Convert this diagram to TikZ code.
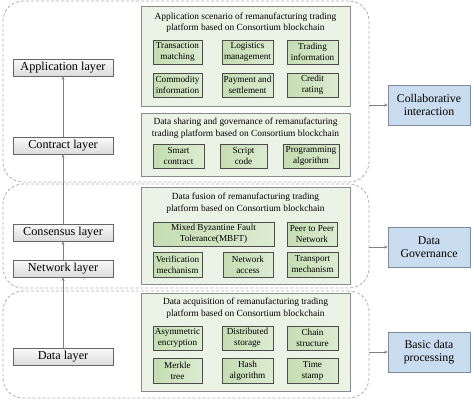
\documentclass[tikz,border=0pt]{standalone}
\usepackage{fontspec}
\setmainfont{Liberation Serif}
\usetikzlibrary{arrows.meta}
\definecolor{panelfill}{HTML}{EBF2E6}
\definecolor{panelline}{HTML}{8A8A8A}
\definecolor{itemtop}{HTML}{C4DDB2}
\definecolor{itembot}{HTML}{DDEBD2}
\definecolor{bluefill}{HTML}{C9DCF0}
\definecolor{blueline}{HTML}{7D8C9C}
\definecolor{dashline}{HTML}{B0B0B0}
\begin{document}
\begin{tikzpicture}[x=1pt,y=-1pt,
  region/.style={draw=dashline, densely dashed, line width=0.8pt, rounded corners=20pt, inner sep=0pt},
  layerbox/.style={draw=gray!80!black, line width=0.6pt, top color=gray!4, bottom color=gray!28, minimum width=100pt, minimum height=17pt, inner sep=0pt, font=\fontsize{12.2}{14}\selectfont},
  panel/.style={draw=panelline, line width=0.9pt, fill=panelfill, inner sep=0pt},
  ptitle/.style={align=center, inner sep=0pt, font=\fontsize{9.4}{11.5}\selectfont},
  item/.style={draw=black!70, line width=0.6pt, left color=itemtop, right color=itembot, align=center, inner sep=0pt, minimum height=24pt, font=\fontsize{9.2}{11}\selectfont},
  bluebox/.style={draw=blueline, line width=0.7pt, fill=bluefill, align=center, inner sep=0pt, minimum width=82pt, minimum height=40pt, font=\fontsize{11.8}{13.5}\selectfont},
  uparr/.style={draw=gray, line width=0.8pt, -{Stealth[length=3.5pt,width=3pt]}},
]
\useasboundingbox (0,0) rectangle (474,400);
% dashed regions
\node[region, minimum width=366pt, minimum height=181pt] (R1) at (186,91.5) {};
\node[region, minimum width=366pt, minimum height=104pt] (R2) at (186,236) {};
\node[region, minimum width=366pt, minimum height=107pt] (R3) at (186,344.5) {};
% green panels
\node[panel, minimum width=209pt, minimum height=100pt] (P1) at (245.5,56) {};
\node[panel, minimum width=209pt, minimum height=63pt] (P2) at (245.5,144.5) {};
\node[panel, minimum width=209pt, minimum height=97pt] (P3) at (245.5,235.5) {};
\node[panel, minimum width=209pt, minimum height=98pt] (P4) at (245.5,342) {};
% panel titles
\node[ptitle] (T1) at (245.5,22.5) {Application scenario of remanufacturing trading\\platform based on Consortium blockchain};
\node[ptitle] (T2) at (245.5,128) {Data sharing and governance of remanufacturing\\trading platform based on Consortium blockchain};
\node[ptitle] (T3) at (245.5,203) {Data fusion of remanufacturing trading\\platform based on Consortium blockchain};
\node[ptitle] (T4) at (245.5,308) {Data acquisition of remanufacturing trading\\platform based on Consortium blockchain};
% panel 1 items
\node[item, minimum width=49pt] (a1) at (177.5,52) {Transaction\\matching};
\node[item, minimum width=51pt] (a2) at (247.5,52) {Logistics\\management};
\node[item, minimum width=51pt] (a3) at (312.5,52) {Trading\\information};
\node[item, minimum width=49pt] (a4) at (177.5,85) {Commodity\\information};
\node[item, minimum width=51pt] (a5) at (247.5,85) {Payment and\\settlement};
\node[item, minimum width=51pt] (a6) at (312.5,85) {Credit\\rating};
% panel 2 items
\node[item, minimum width=51pt] (b1) at (178.5,156) {Smart\\contract};
\node[item, minimum width=47pt] (b2) at (243.5,156) {Script\\code};
\node[item, minimum width=56pt] (b3) at (311,156) {Programming\\algorithm};
% panel 3 items
\node[item, minimum width=121pt] (c1) at (213.5,234) {Mixed Byzantine Fault\\Tolerance(MBFT)};
\node[item, minimum width=50pt] (c2) at (312,234) {Peer to Peer\\Network};
\node[item, minimum width=49pt, minimum height=25pt] (c3) at (177.5,264.5) {Verification\\mechanism};
\node[item, minimum width=50pt, minimum height=25pt] (c4) at (248,264.5) {Network\\access};
\node[item, minimum width=51pt, minimum height=25pt] (c5) at (312.5,264.5) {Transport\\mechanism};
% panel 4 items
\node[item, minimum width=49pt] (d1) at (177.5,338) {Asymmetric\\encryption};
\node[item, minimum width=51pt] (d2) at (247.5,338) {Distributed\\storage};
\node[item, minimum width=51pt] (d3) at (312.5,338) {Chain\\structure};
\node[item, minimum width=49pt, minimum height=25pt] (d4) at (177.5,370.5) {Merkle\\tree};
\node[item, minimum width=51pt, minimum height=25pt] (d5) at (247.5,370.5) {Hash\\algorithm};
\node[item, minimum width=51pt, minimum height=25pt] (d6) at (312.5,370.5) {Time\\stamp};
% layer boxes
\node[layerbox] (L1) at (63,67.5) {Application layer};
\node[layerbox] (L2) at (63,145.5) {Contract layer};
\node[layerbox] (L3) at (63,232.5) {Consensus layer};
\node[layerbox] (L4) at (63,268.5) {Network layer};
\node[layerbox] (L5) at (63,356.5) {Data layer};
\draw[uparr] (L2) -- (L1);
\draw[uparr] (L3) -- (L2);
\draw[uparr] (L4) -- (L3);
\draw[uparr] (L5) -- (L4);
% right boxes
\node[bluebox] (B1) at (429,105) {Collaborative\\interaction};
\node[bluebox] (B2) at (429,247) {Data\\Governance};
\node[bluebox] (B3) at (429,352) {Basic data\\processing};
\draw[uparr] (R1.east |- B1.west) -- (B1.west);
\draw[uparr] (R2.east |- B2.west) -- (B2.west);
\draw[uparr] (R3.east |- B3.west) -- (B3.west);
\end{tikzpicture}
\end{document}
